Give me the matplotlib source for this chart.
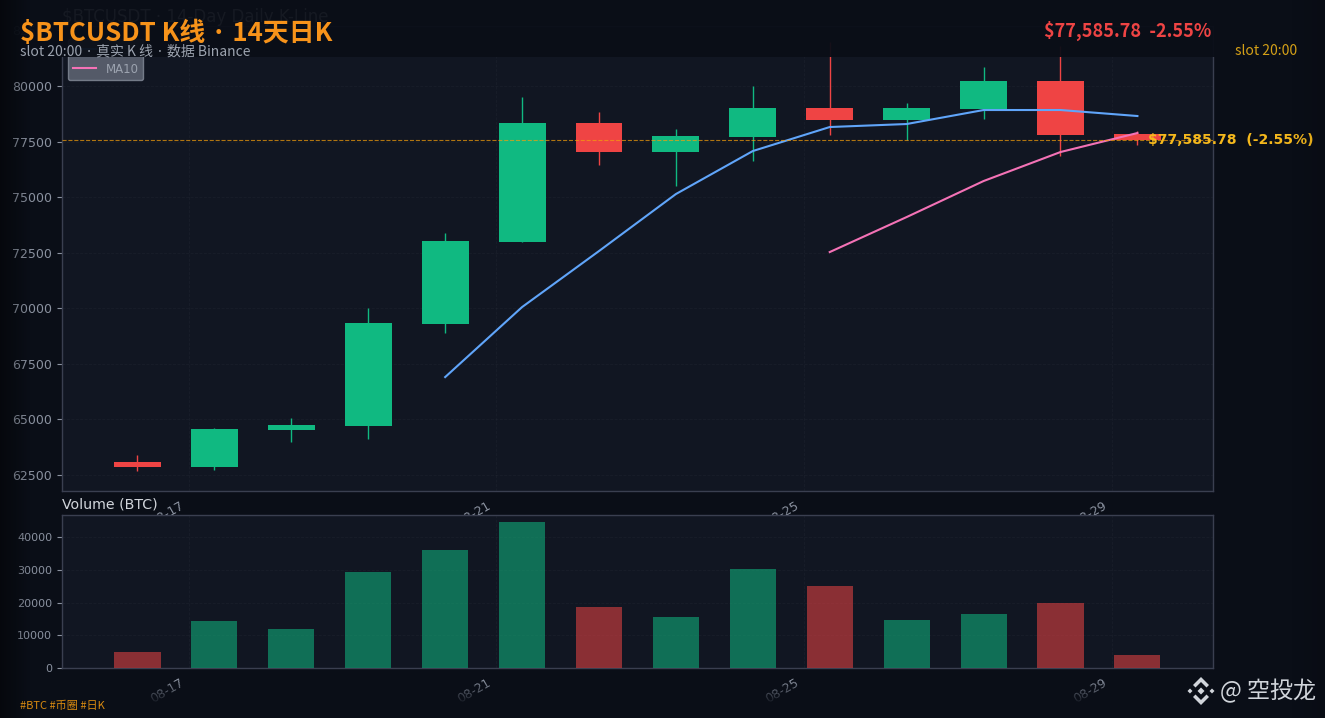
import numpy as np
import pandas as pd
import matplotlib
matplotlib.use('Agg')
import matplotlib.pyplot as plt
import matplotlib.dates as mdates
from matplotlib.patches import Polygon
from matplotlib.transforms import ScaledTranslation

dates = ['2025-08-16 08:00', '2025-08-17 08:00', '2025-08-18 08:00', '2025-08-19 08:00', '2025-08-20 08:00',
         '2025-08-21 08:00', '2025-08-22 08:00', '2025-08-23 08:00', '2025-08-24 08:00', '2025-08-25 08:00',
         '2025-08-26 08:00', '2025-08-27 08:00', '2025-08-28 08:00', '2025-08-29 08:00']
opens = [63080, 62855, 64520, 64700, 69290, 72980, 78335, 77030, 77705, 79010, 78470, 78965, 80225, 77840]
highs = [63395, 64610, 65060, 70010, 73385, 79505, 78830, 78065, 80000, 82000, 79235, 80855, 81800, 77975]
lows = [62675, 62720, 63980, 64115, 68885, 72980, 76445, 75500, 76625, 77795, 77570, 78515, 76850, 77345]
closes = [62855, 64565, 64745, 69335, 73025, 78335, 77030, 77750, 79010, 78470, 79010, 80225, 77795, 77585.78]
volumes = [4980, 14440, 12000, 29400, 36100, 44700, 18700, 15660, 30300, 25100, 14750, 16580, 19940, 4060]
ma5 = [np.nan] * 4 + [66905, 70055, 72575, 75140, 77075, 78155, 78290, 78920, 78920, 78650]
ma10 = [np.nan] * 9 + [72530, 74105, 75725, 77030, 77885]
tick_dates = ['2025-08-17', '2025-08-21', '2025-08-25', '2025-08-29']
price_ticks = [62500, 65000, 67500, 70000, 72500, 75000, 77500, 80000, 82500]
vol_ticks = [0, 10000, 20000, 30000, 40000]
last_price = 77585.78

W, H = 1325, 718
BG = '#0a0e17'
PANEL = '#111622'
EDGE = '#3a3f50'
UP = '#10b981'
DOWN = '#ef4444'
CJK = ['Noto Sans CJK JP', 'DejaVu Sans']


def px_axes(fig, left, top, right, bottom):
    return fig.add_axes([left / W, 1 - bottom / H, (right - left) / W, (bottom - top) / H])


def style_axes(ax, size):
    ax.set_facecolor(PANEL)
    for s in ax.spines.values():
        s.set_color(EDGE)
        s.set_linewidth(1)
    ax.tick_params(axis='y', colors='#8b92a0', labelsize=size, length=3.5, width=0.8)
    ax.tick_params(axis='x', colors='#8b92a0', labelsize=9, length=0, pad=6)
    ax.grid(True, color='#ffffff', alpha=0.03, linestyle='--', linewidth=0.6)
    ax.set_axisbelow(True)
    ax.set_xticks(tick_x)
    ax.xaxis.set_major_formatter(mdates.DateFormatter('%m-%d'))
    nudge = ScaledTranslation(-2.2 / 72, 0, fig.dpi_scale_trans)
    for t in ax.get_xticklabels():
        t.set_rotation(30)
        t.set_ha('right')
        t.set_transform(t.get_transform() + nudge)
    ax.set_xlim(x_left, x_right)


x = mdates.date2num(pd.to_datetime(dates))
tick_x = mdates.date2num(pd.to_datetime(tick_dates))
x_left = tick_x[0] - 1.648
x_right = tick_x[0] + 13.316
colors = [UP if c >= o else DOWN for o, c in zip(opens, closes)]

fig = plt.figure(figsize=(W / 100, H / 100), dpi=100, facecolor=BG)

ax = px_axes(fig, 62, 26, 1213, 491)
style_axes(ax, 9)
ax.vlines(x, lows, highs, colors=colors, linewidth=1, zorder=2)
ax.bar(x, np.abs(np.array(closes) - np.array(opens)), bottom=np.minimum(opens, closes),
       width=0.61, color=colors, zorder=3)
ax.plot(x, ma5, color='#60a5fa', linewidth=1.5, label='MA5', zorder=4)
ax.plot(x, ma10, color='#f472b6', linewidth=1.5, label='MA10', zorder=4)
ax.axhline(last_price, color='#f59e0b', linewidth=0.8, linestyle='--', alpha=0.7, zorder=5)
ax.annotate(f'${last_price:,.2f}  (-2.55%)', xy=(x[-1], last_price), xytext=(7.5, 0), textcoords='offset points',
            color='#f5b81c', fontsize=10.1, fontweight='bold', va='center', annotation_clip=False, zorder=6)
ax.set_yticks(price_ticks)
ax.set_ylim(61780, 82700)
ax.set_title('$BTCUSDT · 14-Day Daily K-Line', loc='left', color='#e5e7eb', fontsize=12, pad=3)
leg = ax.legend(loc='upper left', bbox_to_anchor=(0, 1 - 7 / 465), fontsize=8.5, facecolor='#6b7280',
                edgecolor='#8b92a0', framealpha=0.75, labelcolor='#9ca3af')

vol = px_axes(fig, 62, 515, 1213, 668)
style_axes(vol, 8)
vol.bar(x, volumes, width=0.6, color=colors, alpha=0.55, zorder=3)
vol.set_yticks(vol_ticks)
vol.set_ylim(0, 46725)
vol.set_title('Volume (BTC)', loc='left', color='#d1d5db', fontsize=10.2, pad=4.5)

# vignette and header band sit above both panels
over = fig.add_axes([0, 0, 1, 1], zorder=5)
over.set_axis_off()
yy, xx = np.mgrid[0:H, 0:W]
alpha = np.zeros((H, W))
alpha[yy < 57] = 0.95
alpha = np.maximum(alpha, np.clip((yy - 680) / 24, 0, 0.97))
rgba = np.zeros((H, W, 4))
rgba[..., :3] = matplotlib.colors.to_rgb(BG)
rgba[..., 3] = alpha
over.imshow(rgba, extent=(0, W, H, 0), aspect='auto', interpolation='nearest')
edge = np.zeros((H, W, 4))
edge[..., 3] = np.maximum(np.clip((30 - xx) / 30, 0, 1) * 0.45, np.clip((xx - 1290) / 35, 0, 1) * 0.12)
over.imshow(edge, extent=(0, W, H, 0), aspect='auto', interpolation='nearest')
over.set_xlim(0, W)
over.set_ylim(H, 0)

# binance mark
cx, cy = 1201, 691
logo = [
    [(cx, cy - 3.5), (cx + 3.5, cy), (cx, cy + 3.5), (cx - 3.5, cy)],
    [(cx - 13.5, cy), (cx - 11, cy - 2.5), (cx - 8.5, cy), (cx - 11, cy + 2.5)],
    [(cx + 13.5, cy), (cx + 11, cy - 2.5), (cx + 8.5, cy), (cx + 11, cy + 2.5)],
    [(cx, cy - 14), (cx + 8, cy - 6), (cx + 5.5, cy - 3.5), (cx, cy - 9), (cx - 5.5, cy - 3.5), (cx - 8, cy - 6)],
    [(cx, cy + 14), (cx + 8, cy + 6), (cx + 5.5, cy + 3.5), (cx, cy + 9), (cx - 5.5, cy + 3.5), (cx - 8, cy + 6)],
]
for pts in logo:
    over.add_patch(Polygon(pts, closed=True, facecolor='#d1d5db', edgecolor='none'))


def label(px, py, s, **kw):
    fig.text(px / W, 1 - py / H, s, va='center', family=CJK, zorder=10, **kw)


label(20, 33, '$BTCUSDT K线 · 14天日K', color='#f7931a', fontsize=18.6, fontweight='bold')
label(20, 51, 'slot 20:00 · 真实 K 线 · 数据 Binance', color='#9ca3af', fontsize=10)
label(1211, 31, f'${last_price:,.2f}  -2.55%', color='#ef4444', fontsize=13, fontweight='bold', ha='right')
label(1235, 51, 'slot 20:00', color='#d4a017', fontsize=10)
label(20, 706, '#BTC #币圈 #日K', color='#d98a10', fontsize=8)
label(1220, 691, '@ 空投龙', color='#d1d5db', fontsize=16.6)

fig.savefig('out.png', dpi=100, facecolor=BG)
